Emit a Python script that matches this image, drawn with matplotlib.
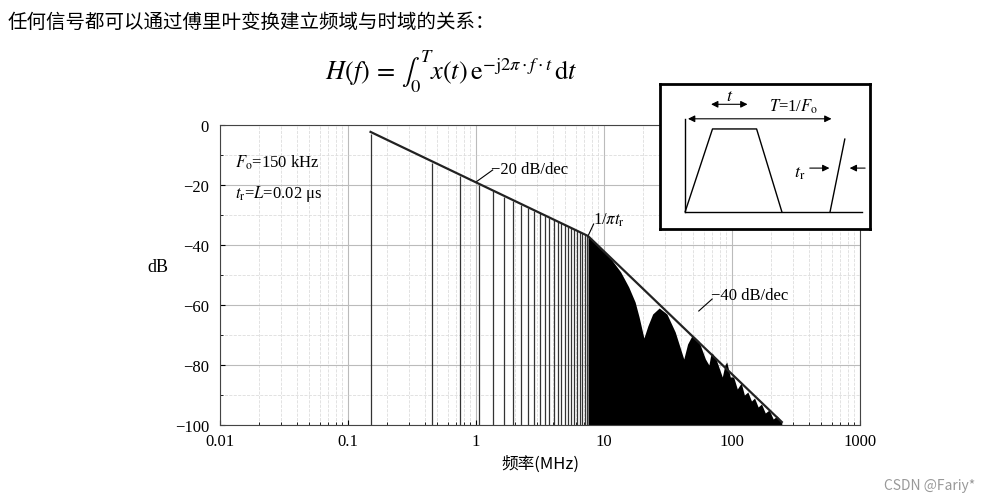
import numpy as np
import matplotlib.pyplot as plt

plt.rcParams['font.family'] = ['Noto Sans CJK SC', 'DejaVu Sans']
plt.rcParams['mathtext.fontset'] = 'stix'

# odd harmonics of 150 kHz below the corner (MHz) and their levels (dB)
harm_f = [0.15, 0.45, 0.75, 1.05, 1.35, 1.65, 1.95, 2.25, 2.55, 2.85, 3.15, 3.45,
          3.75, 4.05, 4.35, 4.65, 4.95, 5.25, 5.55, 5.85, 6.15, 6.45, 6.75, 7.05, 7.35]
harm_db = [-3, -12.5, -17, -20, -22, -24, -25.3, -26.5, -27.6, -28.6, -29.4, -30.2,
           -31, -31.6, -32.2, -32.8, -33.4, -33.9, -34.4, -34.8, -35.2, -35.6, -36, -36.4, -36.8]

# outline of the dense (black) part of the spectrum
dense_f = [7.5, 9, 11.5, 13.5, 15.6, 17.5, 18.8, 20.5, 22, 24, 27, 31, 36, 42,
           45, 49, 55, 62, 66, 68, 70, 75, 84, 88, 91, 97, 103, 110, 118, 125,
           133, 142, 150, 160, 170, 182, 195, 210, 225, 245]
dense_db = [-37, -40.5, -45, -49, -54, -59, -64, -71, -67, -63, -61, -63, -69, -78,
            -73, -70, -72, -78, -80, -77, -76, -78, -84, -80, -79, -84, -84, -88, -86, -90,
            -89, -92, -91, -94, -93, -96, -95, -98, -97, -99]

# envelope (-20 dB/dec then -40 dB/dec)
env_f = [0.15, 7.5, 245]
env_db = [-2.3, -37, -99]

fig = plt.figure(figsize=(9.82, 5.02), dpi=100)
ax = fig.add_axes([220/982, 1-426/502, 640/982, 300/502])
ax.set_axisbelow(True)

ax.vlines(harm_f, -100, harm_db, color='#333333', lw=0.9, zorder=2)
ax.fill_between(dense_f, -100, dense_db, color='black', lw=0, zorder=2)
ax.plot(env_f, env_db, color='#222222', lw=1.6, zorder=3)

ax.set_xscale('log')
ax.set_xlim(0.01, 1000)
ax.set_ylim(-100, 0)
ax.set_yticks(range(-100, 1, 20))
ax.set_yticklabels(['−100', '−80', '−60', '−40', '−20', '0'], family='Liberation Serif', fontsize=12)
ax.set_xticks([0.01, 0.1, 1, 10, 100, 1000])
ax.set_xticklabels(['0.01', '0.1', '1', '10', '100', '1000'], family='Liberation Serif', fontsize=12)
ax.grid(True, which='major', color='#bbbbbb', lw=0.8)
ax.grid(True, which='minor', axis='x', color='#dddddd', lw=0.6, ls='--')
ax.yaxis.set_minor_locator(plt.MultipleLocator(10))
ax.grid(True, which='minor', axis='y', color='#dddddd', lw=0.6, ls='--')
ax.tick_params(which='both', direction='in')
ax.tick_params(axis='y', pad=8)
ax.tick_params(axis='x', pad=6)
for s in ax.spines.values():
    s.set_color('#444444')
ax.set_xlabel('频率(MHz)', fontsize=12)
ax.set_ylabel('dB', family='Liberation Serif', fontsize=13, rotation=0, labelpad=12)

serif = 'Liberation Serif'
ax.text(0.013, -14, r'$F_\mathrm{o}$=150 kHz', family=serif, fontsize=12)
ax.text(0.013, -24, r'$t_\mathrm{r}$=$L$=0.02 μs', family=serif, fontsize=12)
ax.text(1.3, -16, '−20 dB/dec', family=serif, fontsize=12)
ax.plot([1.0, 1.35], [-19, -15], color='k', lw=0.8)
ax.text(8.2, -33, r'1/$\pi t_\mathrm{r}$', family=serif, fontsize=12)
ax.plot([7.5, 8.3], [-37, -33], color='k', lw=0.8)
ax.text(68, -58, '−40 dB/dec', family=serif, fontsize=12)
ax.plot([55, 70], [-62, -58], color='k', lw=0.8)

# inset: trapezoidal waveform
ins = fig.add_axes([660/982, 1-230/502, 210/982, 145/502])
ins.set_xlim(0, 10)
ins.set_ylim(0, 10)
ins.set_xticks([])
ins.set_yticks([])
for s in ins.spines.values():
    s.set_linewidth(2)
ins.plot([1.2, 1.2], [1.2, 7.6], color='k', lw=1)
ins.plot([1.2, 9.6], [1.2, 1.2], color='k', lw=1)
ins.plot([1.2, 2.5, 4.6, 5.8], [1.2, 6.9, 6.9, 1.2], color='k', lw=1)
ins.plot([8.1, 8.8], [1.2, 6.2], color='k', lw=1)
ins.annotate('', xy=(8.3, 7.6), xytext=(1.2, 7.6), arrowprops=dict(arrowstyle='<|-|>', color='k', lw=0.8))
ins.annotate('', xy=(2.3, 8.6), xytext=(4.3, 8.6), arrowprops=dict(arrowstyle='<|-|>', color='k', lw=0.8))
ins.text(3.3, 8.9, r'$t$', family=serif, fontsize=13, ha='center')
ins.text(5.2, 8.2, r'$T$=1/$F_\mathrm{o}$', family=serif, fontsize=12)
ins.annotate('', xy=(8.2, 4.2), xytext=(7.0, 4.2), arrowprops=dict(arrowstyle='-|>', color='k', lw=0.8))
ins.annotate('', xy=(8.9, 4.2), xytext=(9.9, 4.2), arrowprops=dict(arrowstyle='-|>', color='k', lw=0.8))
ins.text(6.4, 3.6, r'$t_\mathrm{r}$', family=serif, fontsize=13)

fig.text(8/982, 1-22/502, '任何信号都可以通过傅里叶变换建立频域与时域的关系：', fontsize=14, va='center')
fig.text(325/982, 1-72/502, r'$H(f)\,=\,\int_0^T x(t)\,\mathrm{e}^{-\mathrm{j}2\pi\cdot f\cdot t}\,\mathrm{d}t$',
         fontsize=19, va='center')
fig.text(975/982, 1-486/502, 'CSDN @Fariy*', fontsize=10, color='#999999', ha='right', va='center')

fig.savefig('out.png', dpi=100)
